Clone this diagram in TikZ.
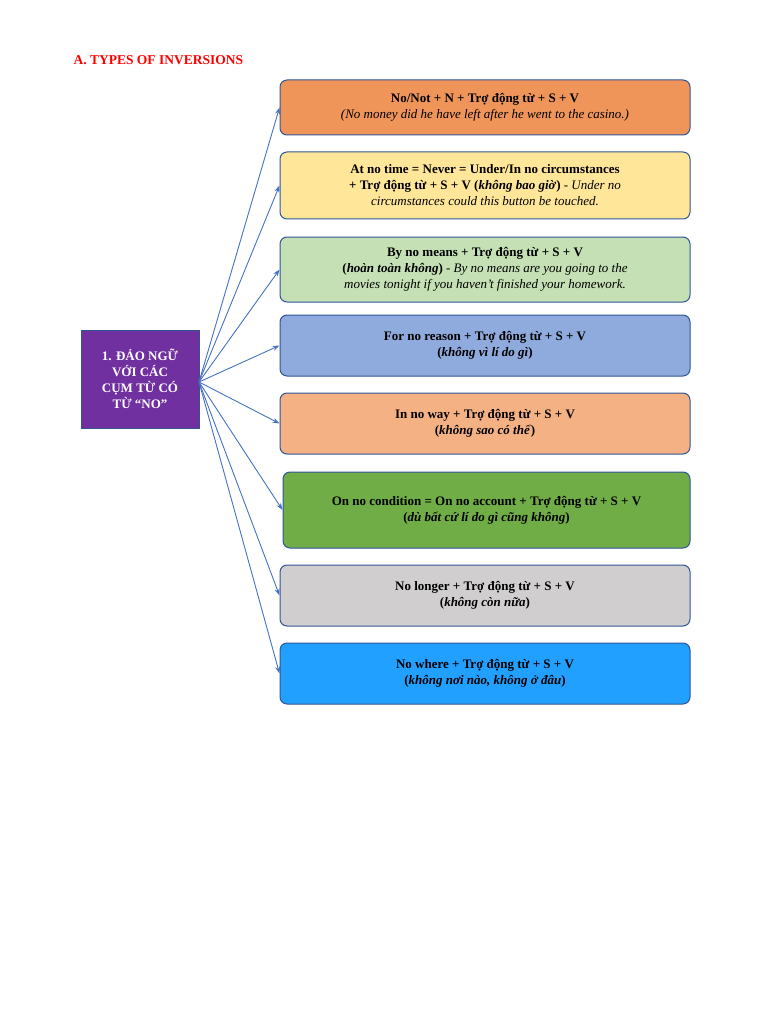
\documentclass[tikz,border=0pt]{standalone}
\usepackage{fontspec}
\setmainfont{Liberation Serif}
\usetikzlibrary{arrows.meta}
\definecolor{c1}{HTML}{F0955A}
\definecolor{c2}{HTML}{FFE699}
\definecolor{c3}{HTML}{C5E0B4}
\definecolor{c4}{HTML}{8FAADC}
\definecolor{c5}{HTML}{F4B183}
\definecolor{c6}{HTML}{70AD47}
\definecolor{c7}{HTML}{D0CECE}
\definecolor{c8}{HTML}{22A0FF}
\definecolor{bd}{HTML}{2F5597}
\definecolor{pur}{HTML}{7030A0}
\definecolor{arr}{HTML}{4472C4}
\begin{document}
\begin{tikzpicture}[x=1pt,y=-1pt,
  box/.style={draw=bd,line width=1pt,rounded corners=7pt,align=center,font=\fontsize{13}{16}\selectfont,inner sep=2pt},
  con/.style={draw=arr,line width=0.9pt,-{Stealth[length=7pt,width=5pt]}}]
\useasboundingbox (0,0) rectangle (768,1024);
\node[anchor=west,text=red,font=\fontsize{13.5}{16}\selectfont\bfseries] (t) at (70,60) {A. TYPES OF INVERSIONS};
\node[box,fill=c1,minimum width=410pt,minimum height=55pt] (b1) at (485,107.5) {\textbf{No/Not + N + Trợ động từ + S + V}\\\textit{(No money did he have left after he went to the casino.)}};
\node[box,fill=c2,minimum width=410pt,minimum height=67pt] (b2) at (485,185.5) {\textbf{At no time = Never = Under/In no circumstances}\\\textbf{+ Trợ động từ + S + V (\textit{không bao giờ})} \textit{- Under no}\\\textit{circumstances could this button be touched.}};
\node[box,fill=c3,minimum width=410pt,minimum height=65pt] (b3) at (485,269.5) {\textbf{By no means + Trợ động từ + S + V}\\\textbf{(\textit{hoàn toàn không})} \textit{- By no means are you going to the}\\\textit{movies tonight if you haven't finished your homework.}};
\node[box,fill=c4,minimum width=410pt,minimum height=61pt] (b4) at (485,345.5) {\textbf{For no reason + Trợ động từ + S + V}\\\textbf{(\textit{không vì lí do gì})}};
\node[box,fill=c5,minimum width=410pt,minimum height=61pt] (b5) at (485,423.5) {\textbf{In no way + Trợ động từ + S + V}\\\textbf{(\textit{không sao có thể})}};
\node[box,fill=c6,minimum width=407pt,minimum height=76pt] (b6) at (486.5,510) {\textbf{On no condition = On no account + Trợ động từ + S + V}\\\textbf{(\textit{dù bất cứ lí do gì cũng không})}};
\node[box,fill=c7,minimum width=410pt,minimum height=61pt] (b7) at (485,595.5) {\textbf{No longer + Trợ động từ + S + V}\\\textbf{(\textit{không còn nữa})}};
\node[box,fill=c8,minimum width=410pt,minimum height=61pt] (b8) at (485,673.5) {\textbf{No where + Trợ động từ + S + V}\\\textbf{(\textit{không nơi nào, không ở đâu})}};
\node[draw=bd,line width=0.8pt,fill=pur,text=white,minimum width=118pt,minimum height=98pt,align=center,font=\fontsize{13}{16}\selectfont\bfseries] (L) at (140,379) {1. ĐẢO NGỮ\\VỚI CÁC\\CỤM TỪ CÓ\\TỪ “NO”};
\coordinate (s) at (199,382);
\foreach \b in {b1,b2,b3,b4,b5,b6,b7,b8} \draw[con] (s) -- (\b.west);
\end{tikzpicture}
\end{document}
